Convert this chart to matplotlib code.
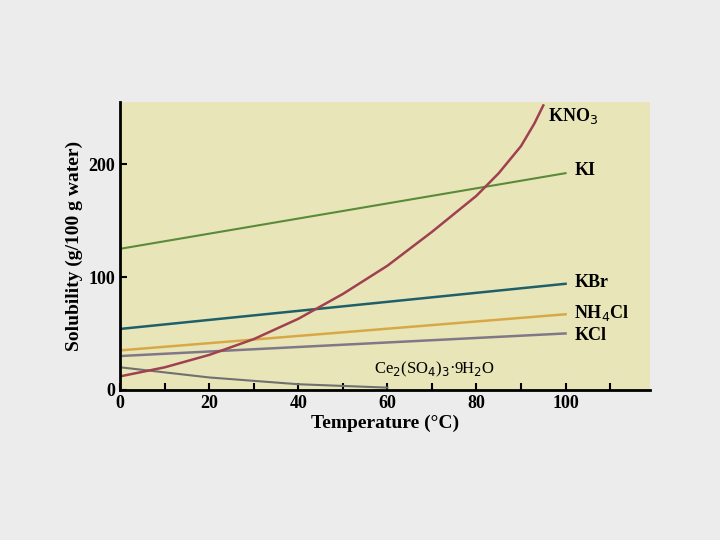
import matplotlib.pyplot as plt
import numpy as np

temp = [0, 10, 20, 30, 40, 50, 60, 70, 80, 85, 90, 93, 95]
kno3 = [12, 20, 31, 45, 63, 85, 110, 140, 172, 192, 216, 236, 252]
temp_lin = [0, 100]
ki = [125, 192]
kbr = [54, 94]
nh4cl = [35, 67]
kcl = [30, 50]
ce_t = [0, 20, 40, 60]
ce = [20, 11, 5, 2]

plt.rcParams['font.family'] = ['Liberation Serif', 'DejaVu Serif']
fig = plt.figure(figsize=(7.2, 5.4), dpi=100, facecolor='#ececec')
ax = fig.add_axes([0.167, 0.278, 0.736, 0.533])
ax.set_facecolor('#e8e6b8')

ax.plot(temp_lin, ki, color='#5a8a3a', lw=1.5)
ax.plot(temp_lin, kbr, color='#1f5f6a', lw=1.8)
ax.plot(temp_lin, nh4cl, color='#d8a848', lw=1.8)
ax.plot(temp_lin, kcl, color='#807888', lw=1.8)
ax.plot(ce_t, ce, color='#707070', lw=1.5)
ax.plot(temp, kno3, color='#a04050', lw=1.8)

lbl = dict(fontsize=13, fontweight='bold', va='center')
ax.text(96, 243, 'KNO$_3$', **lbl)
ax.text(102, 194, 'KI', **lbl)
ax.text(102, 95, 'KBr', **lbl)
ax.text(102, 68, 'NH$_4$Cl', **lbl)
ax.text(102, 48, 'KCl', **lbl)
ax.text(57, 18, 'Ce$_2$(SO$_4$)$_3$·9H$_2$O', fontsize=12, va='center')

ax.set_xlim(0, 119)
ax.set_ylim(0, 255)
ax.set_xticks(range(0, 101, 20))
ax.set_xticks(range(0, 120, 10), minor=True)
ax.set_yticks([0, 100, 200])
ax.tick_params(direction='in', length=5, width=1.5, labelsize=13, which='both')
for t in ax.get_xticklabels() + ax.get_yticklabels():
    t.set_fontweight('bold')
for s in ['top', 'right']:
    ax.spines[s].set_visible(False)
for s in ['left', 'bottom']:
    ax.spines[s].set_linewidth(2)
ax.set_xlabel('Temperature (°C)', fontsize=14, fontweight='bold', labelpad=2)
ax.set_ylabel('Solubility (g/100 g water)', fontsize=14, fontweight='bold')

fig.savefig('out.png', dpi=100, facecolor=fig.get_facecolor())
